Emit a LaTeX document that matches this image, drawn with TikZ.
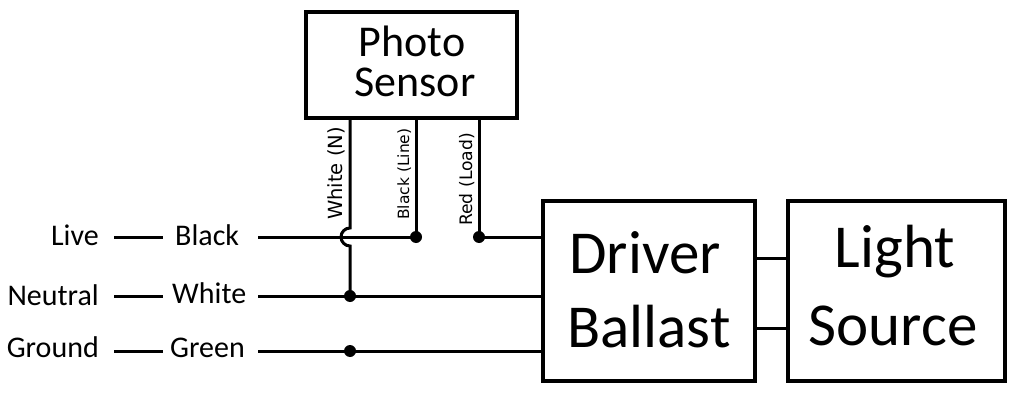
\documentclass[tikz,border=0pt]{standalone}
\usepackage{fontspec}
\setmainfont{Carlito}
\newfontfamily\dejavu{DejaVu Sans}
\begin{document}
\begin{tikzpicture}[x=1pt,y=-1pt,
  box/.style={draw,line width=4pt,inner sep=0pt,outer sep=0pt},
  wire/.style={line width=3pt},
  lbl/.style={inner sep=0pt,font=\fontsize{30}{36}\selectfont},
  big/.style={inner sep=0pt,anchor=base,font=\fontsize{61}{74}\selectfont},
  mid/.style={inner sep=0pt,anchor=base,font=\fontsize{44}{48}\selectfont},
  vlbl/.style={inner sep=0pt,anchor=base west,rotate=90},
  dot/.style={circle,fill,inner sep=0pt,minimum size=12pt}]
\useasboundingbox (0,0) rectangle (1017,401);
% boxes
\node[box,minimum width=211pt,minimum height=106pt] (photo) at (411.5,65) {};
\node[box,minimum width=212pt,minimum height=180pt] (driver) at (649,291) {};
\node[box,minimum width=217pt,minimum height=180pt] (light) at (896.5,291) {};
% box texts
\node[mid] (tphoto) at (412,57) {Photo};
\node[mid] (tsensor) at (415,97) {Sensor};
\node[big] (tdriver) at (645,273) {Driver};
\node[big] (tballast) at (649,347) {Ballast};
\node[big] (tlight) at (895,267) {Light};
\node[big] (tsource) at (893,345) {Source};
% left labels
\node[lbl,anchor=base east] (live) at (99,245) {Live};
\node[lbl,anchor=base east] (neutral) at (99,305) {Neutral};
\node[lbl,anchor=base east] (ground) at (99,357) {Ground};
\node[lbl,anchor=base west] (black) at (175,245) {Black};
\node[lbl,anchor=base west] (white) at (172,303) {White};
\node[lbl,anchor=base west] (green) at (170,357) {Green};
% rotated labels
\node[vlbl,font=\dejavu\fontsize{19.5}{22}\selectfont] (lwhite) at (342,220) {White (N)};
\node[vlbl,font=\dejavu\fontsize{15.5}{18}\selectfont] (lblack) at (409,220) {Black (Line)};
\node[vlbl,font=\dejavu\fontsize{17.2}{20}\selectfont] (lred) at (472,226) {Red (Load)};
% coordinates
\coordinate (la1) at (114,237); \coordinate (la2) at (163,237);
\coordinate (lb1) at (114,296); \coordinate (lb2) at (163,296);
\coordinate (lc1) at (114,351); \coordinate (lc2) at (163,351);
\coordinate (livestart) at (258,237);
\coordinate (neustart) at (258,296);
\coordinate (gndstart) at (258,351);
\coordinate (pw) at (350,118);
\coordinate (pb) at (416,118);
\coordinate (pr) at (479,118);
\coordinate (jb) at (416,237);
\coordinate (jr) at (479,237);
\coordinate (jw) at (350,296);
\coordinate (jg) at (350,351);
\coordinate (hopa) at (350,228);
\coordinate (dl) at (driver.west |- jr);
\coordinate (dn) at (driver.west |- jw);
\coordinate (dg) at (driver.west |- jg);
\coordinate (o1) at (driver.east |- 0,258);
\coordinate (o2) at (driver.east |- 0,328);
\coordinate (i1) at (light.west |- 0,258);
\coordinate (i2) at (light.west |- 0,328);
% wires
\draw[wire] (la1) -- (la2);
\draw[wire] (lb1) -- (lb2);
\draw[wire] (lc1) -- (lc2);
\draw[wire] (livestart) -- (jb);
\draw[wire] (pb) -- (jb);
\draw[wire] (pr) -- (jr) -- (dl);
\draw[wire] (neustart) -- (dn);
\draw[wire] (gndstart) -- (dg);
\draw[wire] (pw) -- (hopa) arc[start angle=270,end angle=90,radius=9] -- (jw);
\draw[wire] (o1) -- (i1);
\draw[wire] (o2) -- (i2);
% dots
\node[dot] (db) at (jb) {};
\node[dot] (dr) at (jr) {};
\node[dot] (dw) at (jw) {};
\node[dot] (dgr) at (jg) {};
\end{tikzpicture}
\end{document}
